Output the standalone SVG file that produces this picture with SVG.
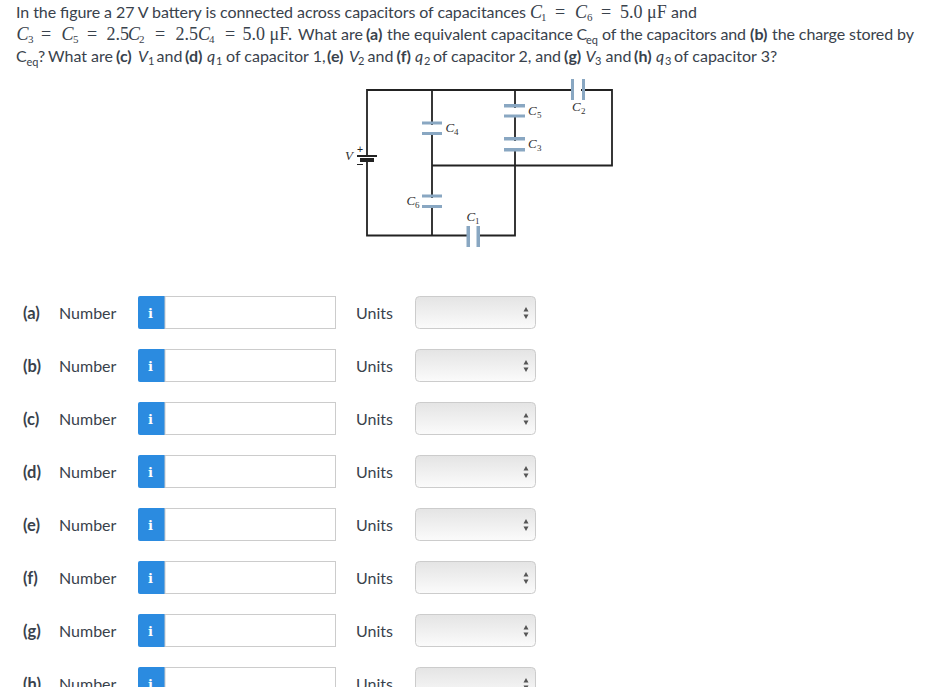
<svg xmlns="http://www.w3.org/2000/svg" width="947" height="687" viewBox="0 0 947 687">
<style>
text{font-family:Lato,"Liberation Sans",sans-serif;fill:#39424c}
.q{font-size:16px}
.b{font-weight:700}
.m{font-family:"Liberation Serif",serif;font-size:18px}
.i{font-style:italic}
.s{font-size:11px}
.l{font-family:"Liberation Serif",serif;font-style:italic;font-size:13px;fill:#333}
.ls{font-family:"Liberation Serif",serif;font-size:9px;fill:#333}
.w{stroke:#222;stroke-width:1.800;fill:none}
.p{fill:#89a7c2}
.r{font-size:16px}
.rb{font-size:16.500px;font-weight:700}
.box{fill:#fff;stroke:#ccc;stroke-width:1}
.ib{fill:#2b8be0}
.it{font-family:"DejaVu Serif",serif;font-weight:700;font-size:13px;fill:#fff;text-anchor:middle}
.sel{fill:url(#g);stroke:#ccc;stroke-width:1}
.ar{fill:#555}
</style>
<defs>
<linearGradient id="g" x1="0" y1="0" x2="0" y2="1"><stop offset="0" stop-color="#e4e4e4"/><stop offset="1" stop-color="#fbfbfb"/></linearGradient>
<g id="row">
<path class="ib" d="M140 296H165V329H140a2 2 0 0 1-2-2V298a2 2 0 0 1 2-2z"/>
<rect class="box" x="165" y="296.500" width="170.500" height="32"/>
<text class="it" x="150.500" y="317.500">i</text>
<text class="r" x="356" y="318.500">Units</text>
<rect class="sel" x="415.500" y="296.500" width="120" height="32" rx="4"/>
<path class="ar" d="M523.500 311.500l2.500-4.500 2.500 4.500zM523.500 314.500l2.500 4.500 2.500-4.500z"/>
<text class="r" x="59" y="318.500">Number</text>
</g>
</defs>
<rect width="947" height="687" fill="#fff"/>
<g id="question">
<text class="q" x="16" y="18" textLength="510">In the figure a 27 V battery is connected across capacitors of capacitances</text>
<text class="m i" x="530" y="18">C</text><text class="m s" x="541" y="21">1</text>
<text class="m" x="555" y="18">=</text>
<text class="m i" x="575" y="18">C</text><text class="m s" x="587" y="21">6</text>
<text class="m" x="601" y="18">=</text>
<text class="m" x="620" y="18">5.0 μF</text>
<text class="q" x="671" y="18">and</text>

<text class="m i" x="16.500" y="40">C</text><text class="m s" x="28" y="43">3</text>
<text class="m" x="41" y="40">=</text>
<text class="m i" x="61.500" y="40">C</text><text class="m s" x="73" y="43">5</text>
<text class="m" x="87" y="40">=</text>
<text class="m" x="106.500" y="40">2.5</text><text class="m i" x="128" y="40">C</text><text class="m s" x="139" y="43">2</text>
<text class="m" x="155" y="40">=</text>
<text class="m" x="175.500" y="40">2.5</text><text class="m i" x="198" y="40">C</text><text class="m s" x="209" y="43">4</text>
<text class="m" x="225" y="40">=</text>
<text class="m" x="242.500" y="40">5.0 μF.</text>
<text class="q" x="298" y="40">What are</text>
<text class="q b" x="366" y="40">(a)</text>
<text class="q" x="387" y="40" textLength="186">the equivalent capacitance</text>
<text class="q" x="576.500" y="40">C</text><text class="s" x="586" y="44">eq</text>
<text class="q" x="602" y="40" textLength="144">of the capacitors and</text>
<text class="q b" x="750" y="40">(b)</text>
<text class="q" x="772" y="40" textLength="142">the charge stored by</text>

<text class="q" x="16" y="62">C</text><text class="s" x="26.500" y="66">eq</text>
<text class="q" x="38" y="62">?</text>
<text class="q" x="48" y="62">What are</text>
<text class="q b" x="116" y="62">(c)</text>
<text class="q i" x="138" y="62">V</text><text class="s" x="148" y="65">1</text>
<text class="q" x="156.500" y="62">and</text>
<text class="q b" x="185" y="62">(d)</text>
<text class="q i" x="207" y="62">q</text><text class="s" x="216" y="65">1</text>
<text class="q" x="226" y="62">of capacitor 1,</text>
<text class="q b" x="327" y="62">(e)</text>
<text class="q i" x="349" y="62">V</text><text class="s" x="358" y="65">2</text>
<text class="q" x="367.500" y="62">and</text>
<text class="q b" x="396.500" y="62">(f)</text>
<text class="q i" x="415" y="62">q</text><text class="s" x="424" y="65">2</text>
<text class="q" x="433" y="62" textLength="128">of capacitor 2, and</text>
<text class="q b" x="564" y="62">(g)</text>
<text class="q i" x="585.500" y="62">V</text><text class="s" x="595" y="65">3</text>
<text class="q" x="605.500" y="62">and</text>
<text class="q b" x="634" y="62">(h)</text>
<text class="q i" x="656" y="62">q</text><text class="s" x="665" y="65">3</text>
<text class="q" x="674" y="62">of capacitor 3?</text>
</g>
<g id="connectors">
<path class="w" d="M367 155V90H612V165.500H432M367 162V235.500H468M478 235.500H515V90M432 90V235.500"/>
</g>
<g id="battery">
<rect x="357" y="155" width="20" height="2" fill="#222"/><rect x="360" y="158" width="14" height="4" fill="#222"/>
<rect x="357" y="164" width="6" height="1" fill="#222"/>
<text class="l" x="345" y="160">V</text>
<text x="357" y="153" font-size="10.500" style="fill:#222;font-family:'Liberation Sans'">+</text>
</g>
<g id="C4"><rect x="423" y="125" width="18" height="7" fill="#fff"/><rect class="p" x="422" y="121.500" width="20" height="3"/><rect class="p" x="422" y="132" width="20" height="3"/><text class="l" x="445.500" y="132">C</text><text class="ls" x="454" y="134.500">4</text></g>
<g id="C6"><rect x="423" y="198" width="18" height="7" fill="#fff"/><rect class="p" x="422" y="194.500" width="20" height="3"/><rect class="p" x="422" y="205" width="20" height="3"/><text class="l" x="406.500" y="205">C</text><text class="ls" x="415" y="207.500">6</text></g>
<g id="C1"><rect x="470" y="230" width="6" height="10" fill="#fff"/><rect class="p" x="466.500" y="226" width="3.500" height="21"/><rect class="p" x="476.500" y="226" width="3.500" height="21"/><text class="l" x="466.500" y="221">C</text><text class="ls" x="475" y="223.500">1</text></g>
<g id="C5"><rect x="505" y="108" width="20" height="7" fill="#fff"/><rect class="p" x="504" y="104" width="21" height="3.500"/><rect class="p" x="504" y="114.500" width="21" height="3"/><text class="l" x="528" y="115">C</text><text class="ls" x="537" y="117.500">5</text></g>
<g id="C3"><rect x="505" y="141" width="20" height="7" fill="#fff"/><rect class="p" x="504" y="137" width="21" height="3.500"/><rect class="p" x="504" y="148" width="21" height="3.500"/><text class="l" x="528" y="148">C</text><text class="ls" x="537" y="150.500">3</text></g>
<g id="C2"><rect x="574" y="85" width="7" height="10" fill="#fff"/><rect class="p" x="571" y="79" width="3" height="21"/><rect class="p" x="582" y="79" width="3" height="21"/><text class="l" x="572" y="111">C</text><text class="ls" x="581" y="113.500">2</text></g>
<g id="row-a"><use href="#row"/><text class="rb" x="23" y="318.500">(a)</text></g>
<g id="row-b"><use href="#row" y="53"/><text class="rb" x="23" y="371.500">(b)</text></g>
<g id="row-c"><use href="#row" y="106"/><text class="rb" x="23" y="424.500">(c)</text></g>
<g id="row-d"><use href="#row" y="159"/><text class="rb" x="23" y="477.500">(d)</text></g>
<g id="row-e"><use href="#row" y="212"/><text class="rb" x="23" y="530.500">(e)</text></g>
<g id="row-f"><use href="#row" y="265"/><text class="rb" x="23" y="583.500">(f)</text></g>
<g id="row-g"><use href="#row" y="318"/><text class="rb" x="23" y="636.500">(g)</text></g>
<g id="row-h"><use href="#row" y="371"/><text class="rb" x="23" y="689.500">(h)</text></g>
</svg>
